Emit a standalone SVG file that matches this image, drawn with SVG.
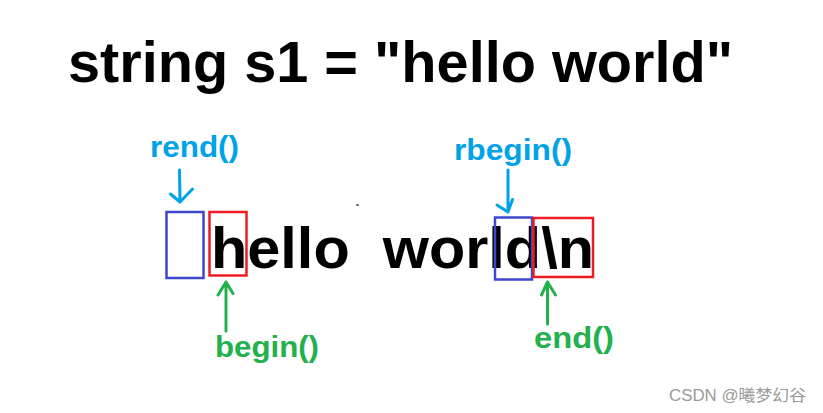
<svg xmlns="http://www.w3.org/2000/svg" width="823" height="413" viewBox="0 0 823 413">
<style>
.t{font-family:"Liberation Sans",Arial,sans-serif;font-weight:bold;fill:#000}
.lbl{font-family:"Liberation Sans",Arial,sans-serif;font-weight:bold;font-size:29px}
.blue{fill:#00a2e8}
.green{fill:#22b14c}
.box{fill:none;stroke-width:2.5}
.arr{fill:none;stroke-width:3;stroke-linecap:round;stroke-linejoin:round}
</style>
<rect width="823" height="413" fill="#fff"/>
<g id="title"><text class="t" x="68" y="82" font-size="58" textLength="665" lengthAdjust="spacingAndGlyphs">string s1 = "hello world"</text></g>
<g id="chars"><text class="t" x="211" y="268" font-size="58" textLength="383" lengthAdjust="spacingAndGlyphs" xml:space="preserve">hello  world\n</text></g>
<g id="rend-box"><rect class="box" x="166.5" y="212" width="37" height="66" stroke="#3f48cc"/></g>
<g id="begin-box"><rect class="box" x="209.5" y="212" width="37" height="63.5" stroke="#ed1c24"/></g>
<g id="rbegin-box"><rect class="box" x="495" y="217.5" width="37" height="62" stroke="#3f48cc"/></g>
<g id="end-box"><rect class="box" x="533.5" y="218" width="59.5" height="59" stroke="#ed1c24"/></g>
<g id="rend-label"><text class="lbl blue" x="150" y="157" textLength="89" lengthAdjust="spacingAndGlyphs">rend()</text></g>
<g id="rbegin-label"><text class="lbl blue" x="454" y="160" textLength="118" lengthAdjust="spacingAndGlyphs">rbegin()</text></g>
<g id="begin-label"><text class="lbl green" x="215" y="357" textLength="104" lengthAdjust="spacingAndGlyphs">begin()</text></g>
<g id="end-label"><text class="lbl green" x="534" y="348" textLength="80" lengthAdjust="spacingAndGlyphs">end()</text></g>
<g id="connectors">
<path class="arr" stroke="#00a2e8" d="M179.5 170 L180 202 M170.5 194 L180 202 L192.5 189"/>
<path class="arr" stroke="#00a2e8" d="M508 170 L508 211 M497 205 L508 212 L512.5 199.5"/>
<path class="arr" stroke="#22b14c" d="M226 331 L226 282 M218 295 L226 282 L233 293.5"/>
<path class="arr" stroke="#22b14c" d="M547.5 324 L547.5 282 M541.5 295 L547.5 282 L555.5 295"/>
</g>
<rect x="356.5" y="204" width="2" height="2" fill="#444"/>
<g id="watermark"><text x="669" y="401" font-family="'Liberation Sans','Noto Sans CJK SC',sans-serif" font-size="16" fill="#9a9a9a" textLength="137" lengthAdjust="spacingAndGlyphs">CSDN @曦梦幻谷</text></g>
</svg>
